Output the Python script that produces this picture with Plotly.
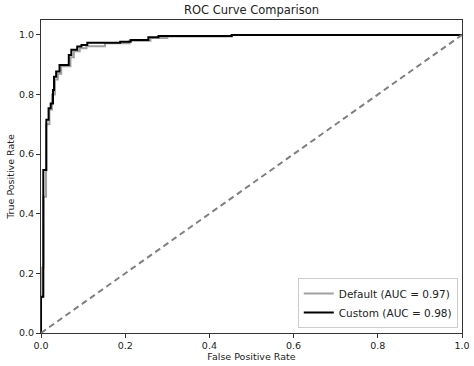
import plotly.graph_objects as go

# ROC vertices (FPR, TPR)
default_fpr = [0.0, 0.0, 0.003, 0.003, 0.006, 0.006, 0.012, 0.012, 0.02, 0.02, 0.026, 0.026,
               0.033, 0.033, 0.040, 0.040, 0.048, 0.048, 0.07, 0.07, 0.078, 0.078, 0.092, 0.092,
               0.108, 0.108, 0.152, 0.152, 0.21, 0.21, 0.26, 0.26, 0.30, 0.30, 0.453, 0.453, 1.0]
default_tpr = [0.0, 0.12, 0.12, 0.22, 0.22, 0.457, 0.457, 0.70, 0.70, 0.75, 0.75, 0.80,
               0.80, 0.85, 0.85, 0.87, 0.87, 0.895, 0.895, 0.925, 0.925, 0.945, 0.945, 0.955,
               0.955, 0.962, 0.962, 0.972, 0.972, 0.98, 0.98, 0.99, 0.99, 0.995, 0.995, 1.0, 1.0]

custom_fpr = [0.0, 0.0, 0.0055, 0.0055, 0.0127, 0.0127, 0.018, 0.018, 0.023, 0.023, 0.0285, 0.0285,
              0.031, 0.031, 0.036, 0.036, 0.044, 0.044, 0.066, 0.066, 0.072, 0.072, 0.086, 0.086,
              0.096, 0.096, 0.11, 0.11, 0.188, 0.188, 0.213, 0.213, 0.255, 0.255, 0.279, 0.279,
              0.453, 0.453, 1.0]
custom_tpr = [0.0, 0.122, 0.122, 0.547, 0.547, 0.715, 0.715, 0.754, 0.754, 0.77, 0.77, 0.815,
              0.815, 0.86, 0.86, 0.877, 0.877, 0.899, 0.899, 0.933, 0.933, 0.95, 0.95, 0.961,
              0.961, 0.966, 0.966, 0.974, 0.974, 0.977, 0.977, 0.983, 0.983, 0.992, 0.992, 0.996,
              0.996, 1.0, 1.0]

chance_x = [0.0, 1.0]
chance_y = [0.0, 1.0]

series_names = ["Default (AUC = 0.97)", "Custom (AUC = 0.98)"]
tick_vals = [0.0, 0.2, 0.4, 0.6, 0.8, 1.0]
tick_text = ["0.0", "0.2", "0.4", "0.6", "0.8", "1.0"]

fig = go.Figure()
fig.add_trace(go.Scatter(x=default_fpr, y=default_tpr, mode="lines", name=series_names[0],
                         line=dict(color="#a0a0a0", width=2)))
fig.add_trace(go.Scatter(x=custom_fpr, y=custom_tpr, mode="lines", name=series_names[1],
                         line=dict(color="black", width=2)))
fig.add_trace(go.Scatter(x=chance_x, y=chance_y, mode="lines", showlegend=False,
                         line=dict(color="#808080", width=2, dash="6px,4px")))

axis_common = dict(showline=True, linecolor="#333333", linewidth=1, mirror=True,
                   ticks="outside", ticklen=4, tickcolor="#333333", showgrid=False,
                   zeroline=False, tickvals=tick_vals, ticktext=tick_text,
                   tickfont=dict(size=9.5, color="#222222"), automargin=False)

fig.update_layout(
    width=474, height=366,
    margin=dict(l=41, r=12, t=20, b=33),
    paper_bgcolor="white", plot_bgcolor="white",
    font=dict(family="DejaVu Sans", color="#222222"),
    title=dict(text="ROC Curve Comparison", x=(41 + 462) / 2 / 474, xanchor="center",
               y=1 - 10 / 366, yanchor="middle", font=dict(size=11.5)),
    xaxis=dict(range=[0, 1], title=dict(text="False Positive Rate", font=dict(size=9.5), standoff=2),
               **axis_common),
    yaxis=dict(range=[0, 1.05], title=dict(text="True Positive Rate", font=dict(size=9.5), standoff=2),
               **axis_common),
    legend=dict(x=0.99, y=0.016, xanchor="right", yanchor="bottom",
                bgcolor="rgba(255,255,255,0.8)", bordercolor="#cccccc", borderwidth=1,
                font=dict(size=10.5), tracegroupgap=0, itemwidth=30),
    showlegend=True,
)

fig.write_html("out.html", config={"displayModeBar": False},
               post_script="document.body.style.margin='0';document.body.style.overflow='hidden';")
